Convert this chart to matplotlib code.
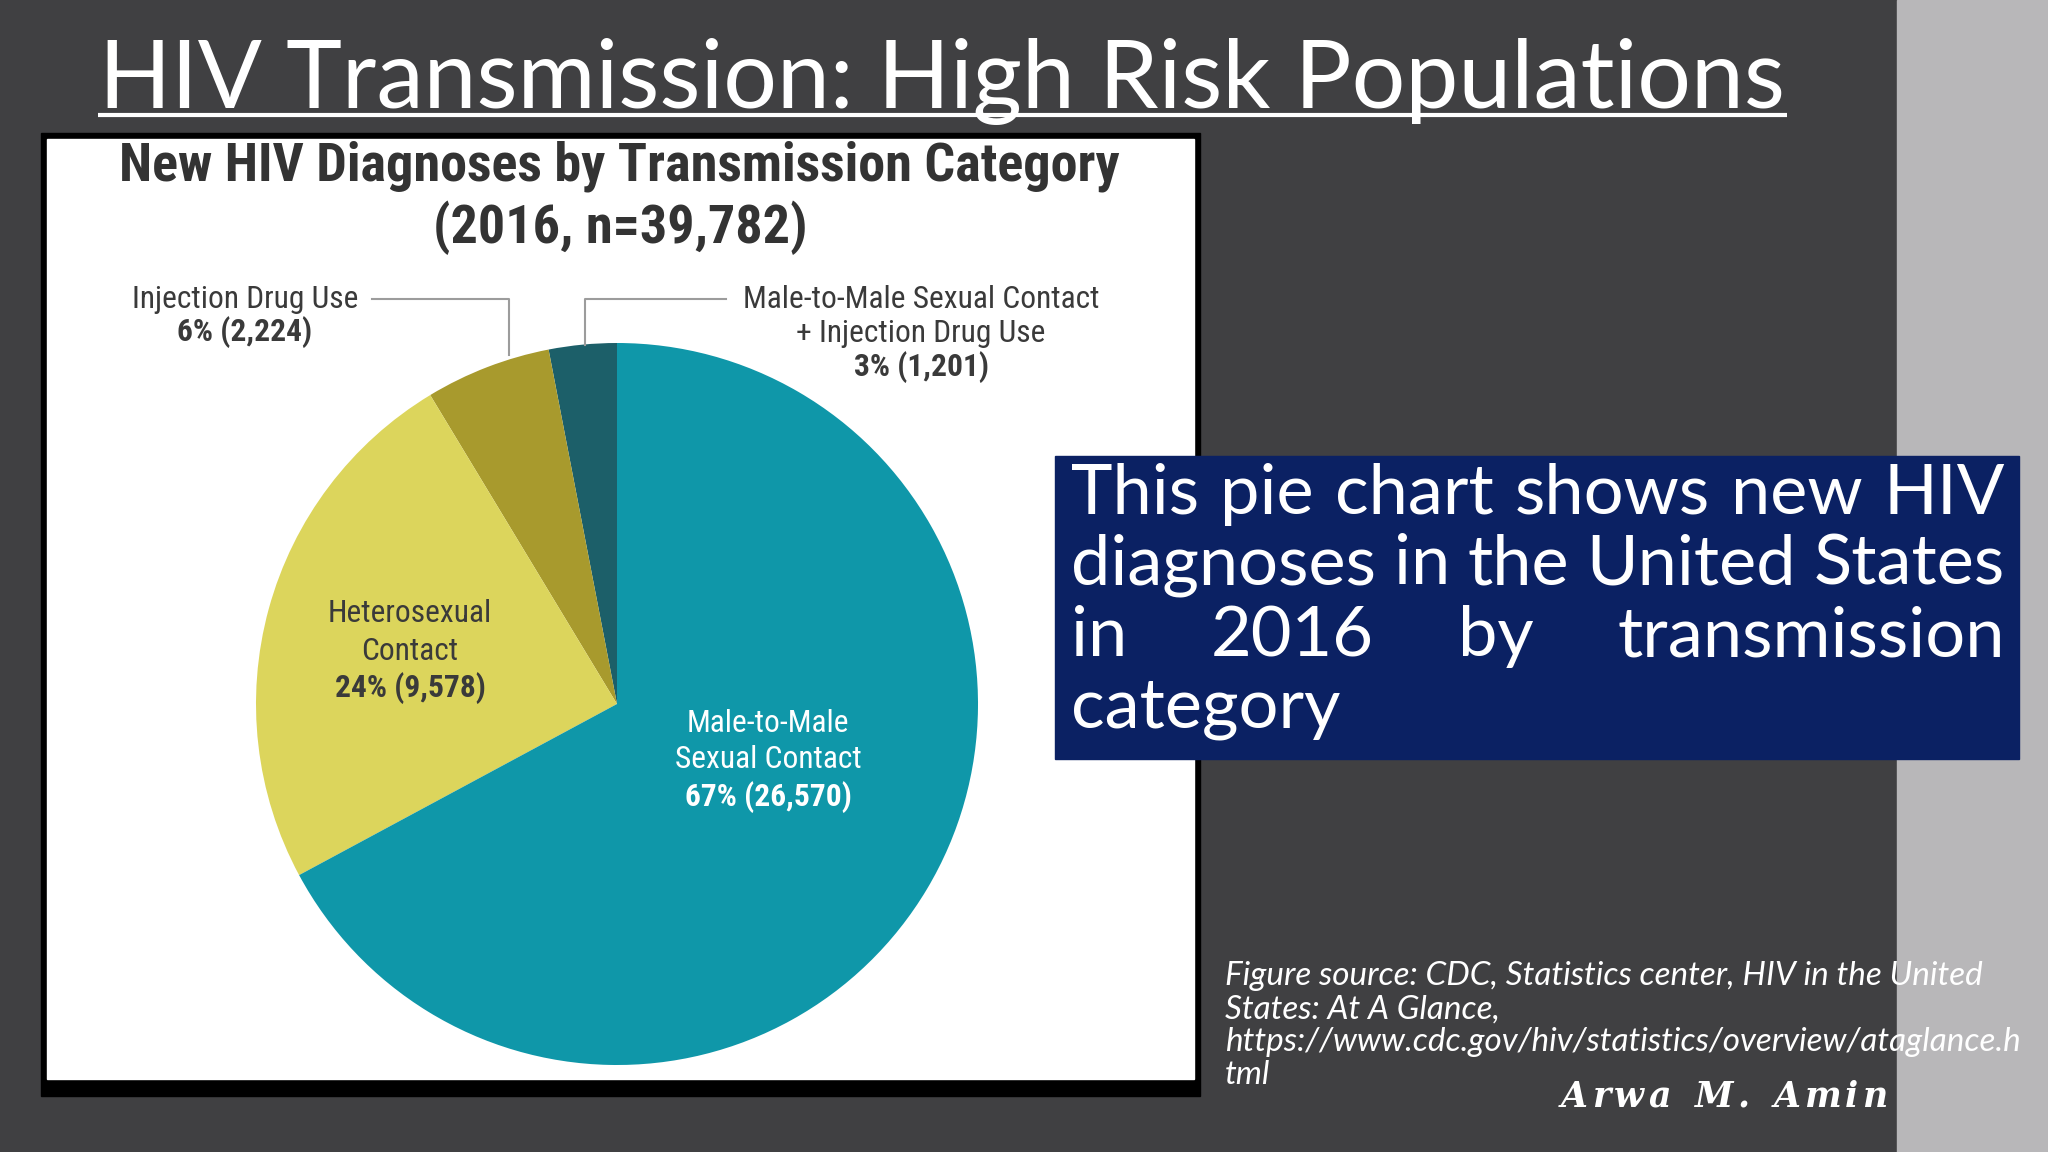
import matplotlib
matplotlib.use("Agg")
import matplotlib.pyplot as plt
from matplotlib import font_manager
from matplotlib.patches import Rectangle

# data
categories = ["Male-to-Male Sexual Contact\n+ Injection Drug Use", "Injection Drug Use",
              "Heterosexual\nContact", "Male-to-Male\nSexual Contact"]
counts = [1201, 2224, 9578, 26570]
percents = [3, 6, 24, 67]
total = 39782
year = 2016
slice_colors = ["#1c5f69", "#a89a2d", "#dcd55c", "#0f97a9"]

page_title = "HIV Transmission: High Risk Populations"
chart_title = "New HIV Diagnoses by Transmission Category"
box_lines = ["This pie chart shows new HIV", "diagnoses in the United States",
             "in 2016 by transmission", "category"]
source_lines = ["Figure source: CDC, Statistics center, HIV in the United",
                "States: At A Glance,",
                "https://www.cdc.gov/hiv/statistics/overview/ataglance.h",
                "tml"]
author = "Arwa M. Amin"

names = {f.name for f in font_manager.fontManager.ttflist}


def pick(*cands):
    for c in cands:
        if c in names:
            return c
    return "DejaVu Sans"


narrow = pick("Liberation Sans Narrow", "Roboto Condensed", "DejaVu Sans")
hand = pick("Lato", "Open Sans", "DejaVu Sans")
serif = pick("DejaVu Serif", "Liberation Serif")

fig = plt.figure(figsize=(20.48, 11.52), dpi=100, facecolor="#404042")
ax = fig.add_axes([0, 0, 1, 1])
renderer = fig.canvas.get_renderer()


def fit(t, target_w):
    w = t.get_window_extent(renderer).width
    t.set_fontsize(t.get_fontsize() * target_w / w)
    return t


# slide background strip
ax.add_patch(Rectangle((1897, 0), 151, 1152, color="#b8b7b9", zorder=0))

# page title + underline
t = ax.text(942, 108, page_title, ha="center", va="baseline", color="white",
            family=hand, fontsize=60, zorder=5)
fit(t, 1689)
ax.plot([98, 1787], [115, 115], color="white", lw=3, solid_capstyle="butt", zorder=5)

# chart panel
ax.add_patch(Rectangle((41, 133), 1159, 963, color="black", zorder=1))
ax.add_patch(Rectangle((47, 139), 1147, 940, color="white", zorder=2))

ax.text(619, 181, chart_title, ha="center", va="baseline", color="#333333",
        family=narrow, stretch="condensed", weight="bold", fontsize=39, zorder=5)
ax.text(620, 243, f"({year}, n={total:,})", ha="center", va="baseline", color="#333333",
        family=narrow, stretch="condensed", weight="bold", fontsize=39, zorder=5)

ax.pie(counts, colors=slice_colors, startangle=-90, counterclock=False,
       center=(617, 704), radius=361, wedgeprops=dict(linewidth=0, zorder=3))

# leader lines
ax.plot([372, 509, 509], [299, 299, 355], color="#9c9c9c", lw=1.5, zorder=4)
ax.plot([726, 585, 585], [299, 299, 345], color="#9c9c9c", lw=1.5, zorder=4)

probe = ax.text(0, 0, "Male-to-Male Sexual Contact", family=narrow, stretch="condensed", fontsize=20)
lab_fs = fit(probe, 355).get_fontsize()
probe.remove()

label_pos = [(921, [299, 333, 367]), (245, [299, 332]), (410, [614, 651, 688]), (768, [723, 760, 797])]
label_col = ["#3a3a3a", "#3a3a3a", "#3a3a3a", "white"]
for cat, n, p, (x, ys), c in zip(categories, counts, percents, label_pos, label_col):
    lines = cat.split("\n")
    for line, y in zip(lines, ys):
        ax.text(x, y, line, ha="center", va="center", color=c, family=narrow,
                stretch="condensed", fontsize=lab_fs, zorder=5)
    ax.text(x, ys[len(lines)], f"{p}% ({n:,})", ha="center", va="center", color=c,
            family=narrow, stretch="condensed", weight="bold", fontsize=lab_fs, zorder=5)

# blue description box (sits over the panel edge), justified text
ax.add_patch(Rectangle((1055, 456), 964, 303, color="#0b2163", zorder=6))
probe = ax.text(0, 0, box_lines[1], family=hand, fontsize=40)
box_fs = fit(probe, 934).get_fontsize()
probe.remove()
left, right = 1071, 2005
for i, (line, y) in enumerate(zip(box_lines, [494, 565, 637, 709])):
    words = line.split()
    objs = [ax.text(0, y, w, ha="left", va="center", color="white", family=hand,
                    fontsize=box_fs, zorder=7) for w in words]
    widths = [o.get_window_extent(renderer).width for o in objs]
    if i < len(box_lines) - 1 and len(words) > 1:
        gap = (right - left - sum(widths)) / (len(words) - 1)
    else:
        gap = box_fs * 0.3
    x = left
    for o, w in zip(objs, widths):
        o.set_x(x)
        x += w + gap

# source note
probe = ax.text(0, 0, source_lines[2], family=hand, style="italic", fontsize=20)
src_fs = fit(probe, 797).get_fontsize()
probe.remove()
for line, y in zip(source_lines, [976, 1010, 1042, 1075]):
    ax.text(1225, y, line, ha="left", va="center", color="white", family=hand,
            style="italic", fontsize=src_fs, zorder=5)

# author signature with wide letter spacing
x = 1561
for ch in author:
    o = ax.text(x, 1097, ch, ha="left", va="center", color="white", family=serif,
                style="italic", weight="bold", fontsize=25, zorder=5)
    x += o.get_window_extent(renderer).width + 4 if ch != " " else 20

ax.set_xlim(0, 2048)
ax.set_ylim(1152, 0)
ax.set_aspect("auto")
ax.axis("off")

fig.savefig("out.png", dpi=100, facecolor=fig.get_facecolor())
